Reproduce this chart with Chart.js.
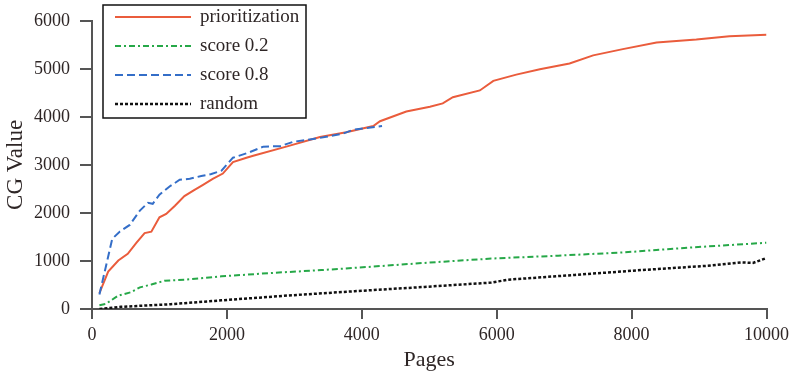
<!DOCTYPE html>
<html>
<head>
<meta charset="utf-8">
<script src="https://cdn.jsdelivr.net/npm/chart.js@4/dist/chart.umd.min.js"></script>
<style>
  body { margin: 0; background: #fff; }
  canvas { display: block; }
</style>
</head>
<body>
<canvas id="cgChart" width="794" height="377"></canvas>
<script>
// values
const seriesNames = ['prioritization', 'score 0.2', 'score 0.8', 'random'];

const prioPages = [110, 240, 390, 530, 660, 780, 880, 1000, 1100, 1230, 1370, 1520, 1640, 1790, 1940, 2090, 2290, 2390, 2880, 3380, 3770, 4170, 4270, 4660, 5010, 5200, 5350, 5750, 5950, 6290, 6640, 7080, 7430, 7870, 8370, 8960, 9450, 10000];
const prioValues = [330, 780, 1010, 1150, 1380, 1580, 1610, 1910, 1980, 2150, 2350, 2480, 2580, 2710, 2820, 3060, 3150, 3190, 3380, 3580, 3680, 3810, 3910, 4110, 4210, 4280, 4410, 4550, 4750, 4880, 4990, 5110, 5280, 5410, 5550, 5610, 5680, 5710];

const lowPages = [110, 210, 390, 580, 710, 880, 1080, 1370, 1920, 2660, 3400, 4140, 4930, 5920, 6910, 7900, 8880, 10000];
const lowValues = [80, 110, 280, 350, 450, 510, 590, 610, 680, 750, 810, 880, 960, 1050, 1110, 1180, 1280, 1380];

const highPages = [110, 300, 410, 560, 710, 830, 900, 1000, 1150, 1300, 1450, 1620, 1770, 1920, 2090, 2310, 2540, 2790, 2980, 3330, 3720, 3870, 4300];
const highValues = [300, 1460, 1610, 1750, 2050, 2210, 2190, 2380, 2550, 2690, 2710, 2770, 2810, 2880, 3150, 3250, 3380, 3390, 3480, 3550, 3650, 3730, 3810];

const randPages = [110, 430, 1170, 1920, 2900, 3890, 4930, 5920, 6170, 7160, 8140, 9130, 9620, 9800, 10000];
const randValues = [0, 45, 100, 180, 280, 370, 460, 550, 610, 710, 810, 900, 970, 960, 1060];

const xTicks = [0, 2000, 4000, 6000, 8000, 10000];
const yTicks = [0, 1000, 2000, 3000, 4000, 5000, 6000];

function pts(xs, ys) {
    return xs.map((x, i) => ({ x: x, y: ys[i] }));
}

const serif = '"Liberation Serif", "Times New Roman", serif';
const axisColor = '#555';
const textColor = '#2e2626';

// legend drawn inside the plot with a box, like the original figure
const boxLegend = {
    id: 'boxLegend',
    afterDraw(chart) {
        const ctx = chart.ctx;
        ctx.save();
        ctx.setLineDash([]);
        ctx.strokeStyle = '#111';
        ctx.lineWidth = 1.5;
        ctx.fillStyle = '#fff';
        ctx.fillRect(103, 5, 203, 113);
        ctx.strokeRect(103, 5, 203, 113);
        ctx.font = '19px ' + serif;
        ctx.textBaseline = 'middle';
        seriesNames.forEach((name, i) => {
            const ds = chart.data.datasets.find(d => d.label === name);
            const y = 17 + i * 29;
            ctx.beginPath();
            ctx.strokeStyle = ds.borderColor;
            ctx.lineWidth = ds.borderWidth;
            ctx.setLineDash(ds.borderDash || []);
            ctx.moveTo(115, y);
            ctx.lineTo(191, y);
            ctx.stroke();
            ctx.setLineDash([]);
            ctx.fillStyle = textColor;
            ctx.fillText(name, 200, y);
        });
        ctx.restore();
    }
};

const ctx = document.getElementById('cgChart').getContext('2d');
const cgChart = new Chart(ctx, {
    type: 'line',
    data: {
        datasets: [{
            label: seriesNames[0],
            data: pts(prioPages, prioValues),
            borderColor: 'rgb(234, 92, 60)',
            borderWidth: 2,
            order: 1
        }, {
            label: seriesNames[1],
            data: pts(lowPages, lowValues),
            borderColor: 'rgb(38, 168, 72)',
            borderWidth: 2,
            borderDash: [6, 3, 2, 3],
            order: 2
        }, {
            label: seriesNames[2],
            data: pts(highPages, highValues),
            borderColor: 'rgb(52, 110, 200)',
            borderWidth: 2,
            borderDash: [8, 4],
            order: 0
        }, {
            label: seriesNames[3],
            data: pts(randPages, randValues),
            borderColor: '#111',
            borderWidth: 2.5,
            borderDash: [3, 2],
            order: 3
        }]
    },
    options: {
        responsive: false,
        animation: false,
        events: [],
        elements: {
            point: { radius: 0 },
            line: { tension: 0, fill: false }
        },
        layout: {
            padding: { top: 9, right: 26, left: 0, bottom: 0 }
        },
        plugins: {
            legend: { display: false },
            tooltip: { enabled: false }
        },
        scales: {
            x: {
                type: 'linear',
                min: 0,
                max: 10000,
                afterBuildTicks: s => { s.ticks = xTicks.map(v => ({ value: v })); },
                afterFit: s => { s.height = 68; },
                grid: {
                    drawOnChartArea: false,
                    tickLength: 10,
                    color: axisColor,
                    lineWidth: 2
                },
                border: { color: axisColor, width: 2 },
                ticks: {
                    maxRotation: 0,
                    autoSkip: false,
                    padding: 5,
                    color: textColor,
                    callback: v => String(v),
                    font: { family: serif, size: 18 }
                },
                title: {
                    display: true,
                    text: 'Pages',
                    color: textColor,
                    padding: { top: 0, bottom: 4 },
                    font: { family: serif, size: 22 }
                }
            },
            y: {
                min: 0,
                max: 6000,
                afterBuildTicks: s => { s.ticks = yTicks.map(v => ({ value: v })); },
                afterFit: s => { s.width = 92; },
                grid: {
                    drawOnChartArea: false,
                    tickLength: 12,
                    color: axisColor,
                    lineWidth: 2
                },
                border: { color: axisColor, width: 2 },
                ticks: {
                    padding: 10,
                    color: textColor,
                    callback: v => String(v),
                    font: { family: serif, size: 18 }
                },
                title: {
                    display: true,
                    text: 'CG Value',
                    color: textColor,
                    padding: { top: 2, bottom: 0 },
                    font: { family: serif, size: 23 }
                }
            }
        }
    },
    plugins: [boxLegend]
});
</script>
</body>
</html>
